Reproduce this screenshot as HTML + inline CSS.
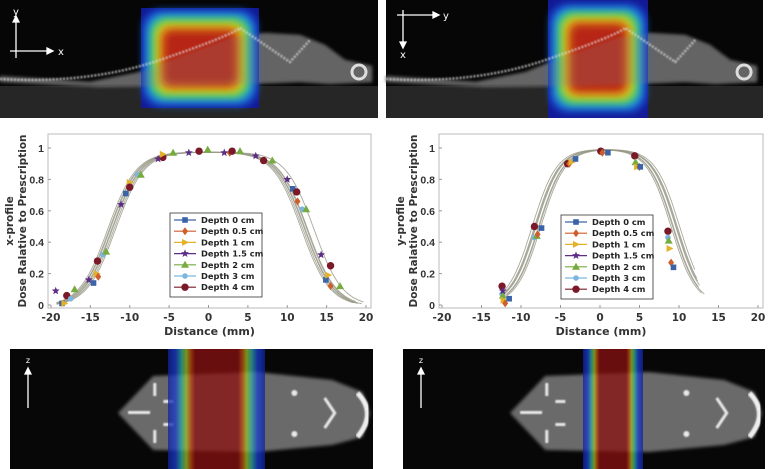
<!DOCTYPE html>
<html><head><meta charset="utf-8"><style>
html,body{margin:0;padding:0;background:#fff;width:770px;height:469px;overflow:hidden}
svg text{font-family:"DejaVu Sans","Liberation Sans",sans-serif;font-weight:bold}
svg text.tk{font-family:"Liberation Sans",sans-serif}
</style></head><body>
<svg id="s" width="770" height="469" viewBox="0 0 770 469" xmlns="http://www.w3.org/2000/svg">
<defs>
<filter id="b4" x="-20%" y="-20%" width="140%" height="140%"><feGaussianBlur stdDeviation="4"/></filter>
<filter id="b2"><feGaussianBlur stdDeviation="1.5"/></filter>
<filter id="b1"><feGaussianBlur stdDeviation="0.8"/></filter>
<linearGradient id="band" x1="0" x2="1">
<stop offset="0" stop-color="#1020a0"/><stop offset="0.08" stop-color="#1a40d0"/><stop offset="0.14" stop-color="#30b0a0"/><stop offset="0.19" stop-color="#a0c020"/><stop offset="0.24" stop-color="#c04010"/><stop offset="0.28" stop-color="#8a1010"/>
<stop offset="0.72" stop-color="#8a1010"/><stop offset="0.76" stop-color="#c04010"/><stop offset="0.81" stop-color="#a0c020"/><stop offset="0.86" stop-color="#30b0a0"/><stop offset="0.92" stop-color="#1a40d0"/><stop offset="1" stop-color="#1020a0"/>
</linearGradient>
</defs>
<g id="g"></g>
</svg>
<script>
const S=document.getElementById('g');let h='';
function add(s){h+=s;}
function topImg(x0,x1,box,inner){
 add(`<rect x="${x0}" y="0" width="${x1-x0}" height="118" fill="#060606"/>`);
 add(`<rect x="${x0}" y="86" width="${x1-x0}" height="32" fill="#262626"/>`);
 const sx=(x1-x0)/378, X=v=>x0+v*sx;
 const body=`M${X(0)},76 L${X(90)},82 L${X(140)},72 L${X(175)},58 L${X(230)},38 L${X(265)},33 L${X(300)},35 L${X(325)},45 L${X(345)},60 L${X(372)},66 L${X(372)},82 L${X(330)},84 L${X(300)},82 L${X(200)},86 L${X(100)},87 L${X(0)},82Z`;
 add(`<path filter="url(#b2)" d="${body}" fill="#5a5a5a"/>`);
 const [bx,by,bw,bh]=box;
 add(`<rect x="${bx}" y="${by}" width="${bw}" height="${bh}" fill="#141a9c" opacity="0.95"/>`);
 const layers=[[0,'#1a60e0',18],[5,'#20c0c0',16],[9,'#70d040',14],[13,'#e0d020',12],[17,'#e07010',10],[21,'#b01818',8]];
 const [ix,iy,iw,ih]=inner;
 layers.forEach(([d,c,r],i)=>{add(`<rect filter="url(#b4)" x="${ix+d}" y="${iy+d}" width="${iw-2*d}" height="${ih-2*d}" rx="${r}" fill="${c}" opacity="${i==0?0.9:0.85}"/>`)});
 add(`<path filter="url(#b2)" d="${body}" fill="#888" opacity="0.22"/>`);
 add(`<path filter="url(#b1)" d="M${X(0)},79 Q${X(90)},84 ${X(160)},60 T${X(240)},28 L${X(290)},62 L${X(310)},40" fill="none" stroke="#ddd" stroke-width="2.5" stroke-dasharray="2 1.5" opacity="0.75"/>`);
 add(`<circle cx="${X(359)}" cy="72" r="7" fill="none" stroke="#ddd" stroke-width="3"/>`);
}
topImg(0,378,[141,8,118,100],[143,10,114,96]);
topImg(386,763,[548,0,100,118],[550,4,96,108]);
add(`<g stroke="#fff" stroke-width="1.3" fill="#fff"><line x1="16" y1="58" x2="16" y2="20"/><path d="M13,22 L16,16 L19,22Z"/><line x1="10" y1="51" x2="48" y2="51"/><path d="M47,48 L53,51 L47,54Z"/>
<line x1="403" y1="10" x2="403" y2="44"/><path d="M400,42 L403,48 L406,42Z"/><line x1="397" y1="15" x2="434" y2="15"/><path d="M433,12 L439,15 L433,18Z"/></g>
<text x="16" y="15" fill="#fff" font-size="10" text-anchor="middle" style="font-weight:normal">y</text><text x="58" y="55" fill="#fff" font-size="10" style="font-weight:normal">x</text>
<text x="443" y="19" fill="#fff" font-size="10" style="font-weight:normal">y</text><text x="403" y="58" fill="#fff" font-size="10" text-anchor="middle" style="font-weight:normal">x</text>`);
function botImg(x0,x1,mx0,mx1,bx0,bx1){
 add(`<rect x="${x0}" y="349" width="${x1-x0}" height="120" fill="#070707"/>`);
 const w=mx1-mx0,X=v=>mx0+v*w;
 add(`<path filter="url(#b2)" d="M${X(0)},413 L${X(0.14)},376 L${X(0.55)},372 L${X(0.85)},380 L${X(0.97)},392 L${X(1)},413 L${X(0.97)},437 L${X(0.85)},445 L${X(0.55)},452 L${X(0.14)},450Z" fill="#6a6a6a"/>`);
 add(`<g fill="#e8e8e8" filter="url(#b1)"><rect x="${X(0.14)}" y="383" width="3" height="13"/><rect x="${X(0.14)}" y="430" width="3" height="13"/><rect x="${X(0.04)}" y="411" width="22" height="3"/><rect x="${X(0.18)}" y="400" width="10" height="3"/><rect x="${X(0.18)}" y="423" width="10" height="3"/>
 <circle cx="${X(0.7)}" cy="393" r="3"/><circle cx="${X(0.7)}" cy="434" r="3"/><path d="M${X(0.82)},398 L${X(0.86)},413 L${X(0.82)},428" fill="none" stroke="#e8e8e8" stroke-width="3"/></g>`);
 add(`<path d="M${X(0.95)},393 Q${X(1.03)},413 ${X(0.95)},437" fill="none" stroke="#eee" stroke-width="5" filter="url(#b1)"/>`);
 add(`<rect x="${bx0}" y="349" width="${bx1-bx0}" height="120" fill="url(#band)" opacity="0.75"/>`);
 add(`<g stroke="#fff" stroke-width="1.3" fill="#fff"><line x1="${x0+18}" y1="408" x2="${x0+18}" y2="372"/><path d="M${x0+15},374 L${x0+18},368 L${x0+21},374Z"/></g><text x="${x0+18}" y="363" fill="#fff" font-size="8" text-anchor="middle" style="font-weight:normal">z</text>`);
}
botImg(10,373,118,370,168,265);
botImg(403,765,510,762,583,643);
const depths=[['Depth 0 cm','#3b63a8','sq'],['Depth 0.5 cm','#cf5f2a','dia'],['Depth 1 cm','#e3b12a','tri'],['Depth 1.5 cm','#5b2d86','star'],['Depth 2 cm','#76ac3f','up'],['Depth 3 cm','#7cb6e0','ast'],['Depth 4 cm','#7a1a28','circ']];
function marker(t,x,y,c){
 const r=3.3;
 if(t=='sq')return `<rect x="${x-2.8}" y="${y-2.8}" width="5.6" height="5.6" fill="${c}"/>`;
 if(t=='dia')return `<path d="M${x},${y-4} L${x+3},${y} L${x},${y+4} L${x-3},${y}Z" fill="${c}"/>`;
 if(t=='tri')return `<path d="M${x-3},${y-3.5} L${x+4},${y} L${x-3},${y+3.5}Z" fill="${c}"/>`;
 if(t=='up')return `<path d="M${x},${y-4} L${x+4},${y+3} L${x-4},${y+3}Z" fill="${c}"/>`;
 if(t=='star'){let p='';for(let i=0;i<10;i++){const a=-Math.PI/2+i*Math.PI/5,rr=i%2?1.8:4.2;p+=(i?'L':'M')+(x+rr*Math.cos(a)).toFixed(1)+','+(y+rr*Math.sin(a)).toFixed(1);}return `<path d="${p}Z" fill="${c}"/>`;}
 if(t=='ast')return `<circle cx="${x}" cy="${y}" r="2.8" fill="${c}"/>`;
 return `<circle cx="${x}" cy="${y}" r="${r+0.4}" fill="${c}"/>`;
}
function plot(L,R,label,prof,pts){
 const T=134,B=308,x0=L-3,x1=R+5;
 const X=v=>L+(v+20)*(R-L)/40,Y=v=>305-v*157;
 add(`<rect x="${x0}" y="${T}" width="${x1-x0}" height="${B-T}" fill="#fff" stroke="#bbb" stroke-width="1"/>`);
 for(let v=-20;v<=20;v+=5){add(`<line x1="${X(v)}" y1="${B}" x2="${X(v)}" y2="${B-3}" stroke="#999"/><text x="${X(v)}" y="${B+13}" font-size="10.5" text-anchor="middle" fill="#333">${v}</text>`);}
 [0,0.2,0.4,0.6,0.8,1].forEach(v=>{add(`<line x1="${x0}" y1="${Y(v)}" x2="${x0+3}" y2="${Y(v)}" stroke="#999"/><text class="tk" x="${x0-4}" y="${Y(v)+4}" font-size="10.5" text-anchor="end" fill="#333">${v}</text>`)});
 add(`<text x="${(x0+x1)/2}" y="${B+27}" font-size="11" text-anchor="middle" fill="#333">Distance (mm)</text>`);
 add(`<text transform="translate(${x0-35},${(T+B)/2}) rotate(-90)" font-size="10.5" text-anchor="middle" fill="#333">${label}</text>`);
 add(`<text transform="translate(${x0-22},${(T+B)/2}) rotate(-90)" font-size="10.5" text-anchor="middle" fill="#333">Dose Ralative to Prescription</text>`);
 depths.forEach((d,i)=>{const f=prof(i);let p='';for(let v=f.lo;v<=f.hi+1e-6;v+=0.25){p+=(p?'L':'M')+X(v).toFixed(1)+','+Y(f.fn(v)).toFixed(1);}
  add(`<path d="${p}" fill="none" stroke="#9a9a8a" stroke-width="0.9" opacity="0.85"/>`);});
 pts.forEach(([i,v,y])=>add(marker(depths[i][2],X(v),Y(y),depths[i][1])));
}
function lg(x,k){return 1/(1+Math.exp(-x/k));}
plot(51,366,'x-profile',i=>{const a=[12,12.3,11.8,12.8,12.5,12.2,12.6][i];return{lo:-19.3,hi:[19,19.5,18.5,19.8,18,19,18.8][i],fn:v=>0.985*lg(v+a,1.8)*lg(a-v+ (i==3?0.6:0),1.8)-0.01}},
[[3,-19.4,0.09],[0,-18.6,0.01],[2,-18.3,0.01],[6,-18,0.06],[5,-17.5,0.04],[4,-17,0.1],[3,-15.2,0.16],[0,-14.6,0.14],[2,-14.2,0.2],[1,-14,0.18],[6,-14.1,0.28],[5,-13.4,0.32],[4,-13,0.34],[3,-11.1,0.64],[0,-10.5,0.71],[2,-10,0.78],[6,-10,0.75],[5,-9,0.83],[4,-8.6,0.83],[3,-6.4,0.93],[6,-5.8,0.94],[2,-5.8,0.96],[4,-4.5,0.97],[3,-2.5,0.97],[6,-1.2,0.98],[4,-0.1,0.99],[3,2,0.97],[1,2.7,0.97],[6,3,0.98],[4,4,0.98],[3,6,0.95],[6,7,0.92],[4,8.1,0.92],[3,10,0.8],[0,10.7,0.74],[6,11.2,0.72],[1,11.3,0.66],[5,11.9,0.61],[4,12.4,0.61],[3,14.3,0.32],[0,14.9,0.16],[2,15.2,0.19],[6,15.5,0.25],[1,15.5,0.12],[4,16.7,0.12]]);
plot(442,758,'y-profile',i=>{const a=[7.7,7.5,7.8,8.1,8.2,8.3,8.6][i];return{lo:[-11.8,-11.9,-12.3,-12.4,-12.4,-12.5,-12.5][i],hi:[13.2,13,12.6,12.6,12.5,12.3,12.2][i],fn:v=>0.995*lg(v+a,1.55)*lg(a-v+1.5,1.55)}},
[[6,-12.4,0.12],[5,-12.4,0.07],[4,-12.3,0.06],[3,-12.3,0.09],[2,-12.2,0.03],[1,-12,0.01],[0,-11.5,0.04],[6,-8.3,0.5],[5,-8.3,0.43],[4,-8,0.44],[1,-7.9,0.45],[0,-7.4,0.49],[6,-4.1,0.9],[1,-3.9,0.9],[2,-3.6,0.91],[0,-3.1,0.93],[6,0.1,0.98],[1,0.3,0.97],[0,1,0.97],[6,4.4,0.95],[4,4.5,0.91],[2,4.7,0.88],[1,5,0.88],[0,5.1,0.88],[6,8.6,0.47],[5,8.6,0.43],[4,8.7,0.41],[2,8.8,0.36],[1,9,0.27],[0,9.3,0.24]]);
function legend(x,y){add(`<rect x="${x}" y="${y}" width="92" height="84" fill="#fff" stroke="#333" stroke-width="0.8"/>`);
 depths.forEach((d,i)=>{const yy=y+7+i*11.2;add(`<line x1="${x+4}" y1="${yy}" x2="${x+26}" y2="${yy}" stroke="${d[1]}" stroke-width="1.2"/>`+marker(d[2],x+15,yy,d[1])+`<text x="${x+31}" y="${yy+3}" font-size="8.3" fill="#222">${d[0]}</text>`)});}
legend(170,213);legend(561,215);
S.innerHTML=h;
</script>
</body></html>
